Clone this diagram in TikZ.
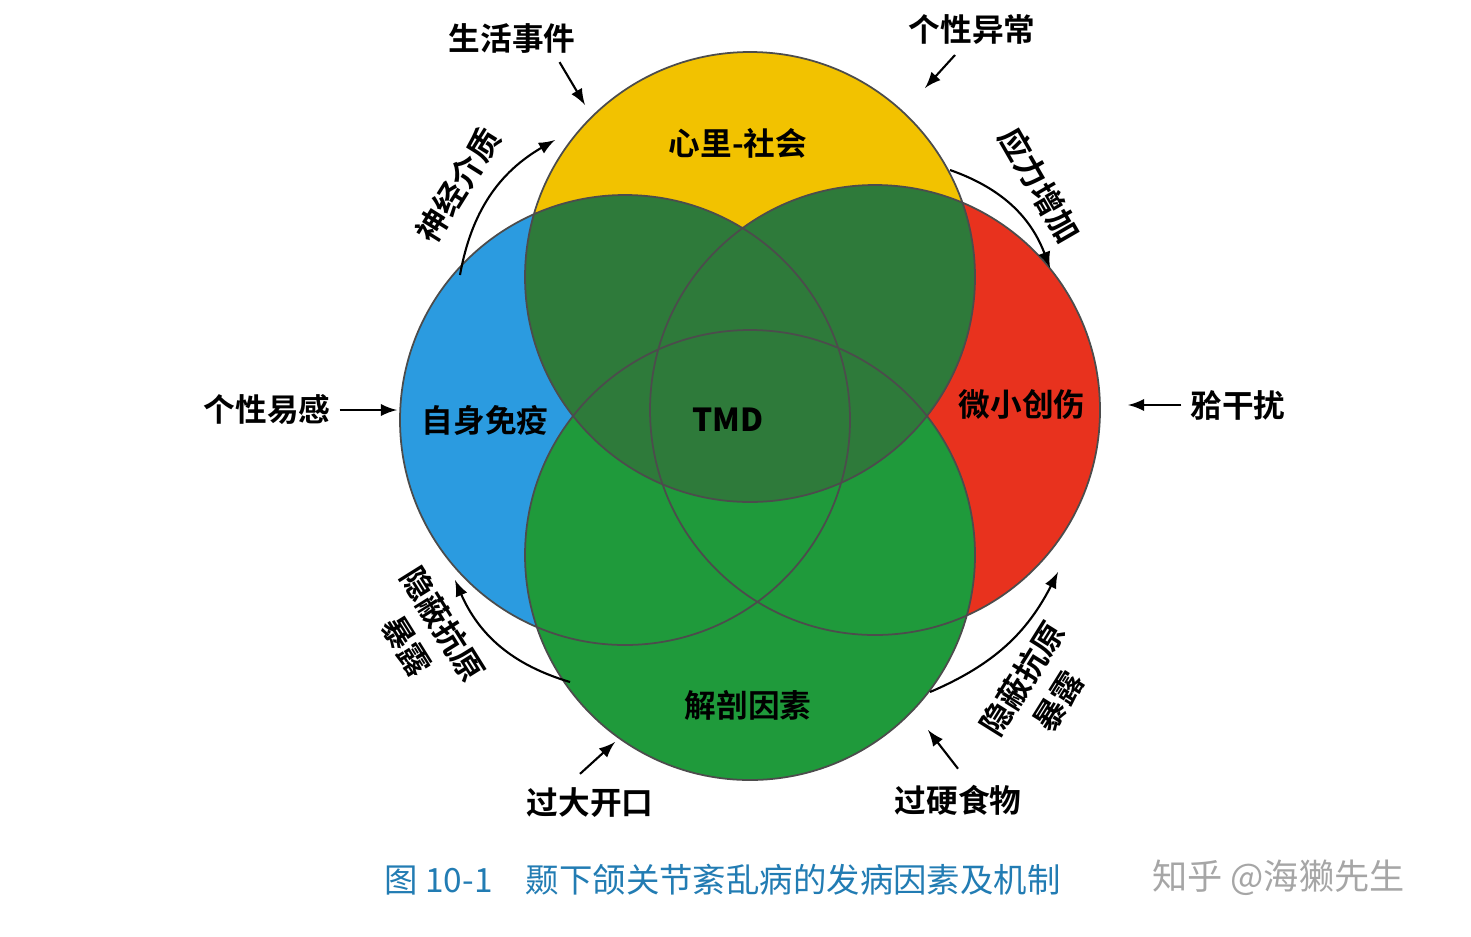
\documentclass[tikz,border=0pt]{standalone}
\usepackage{fontspec}
\setmainfont{Noto Sans CJK SC}
\newfontfamily\cjkb{Noto Sans CJK SC Bold}
\begin{document}
\begin{tikzpicture}[x=0.01cm,y=-0.01cm,
  lbl/.style={font=\cjkb\fontsize{9}{12}\selectfont,inner sep=1pt},
  arr/.style={-latex,line width=0.6pt},
  circ/.style={draw=black!70,line width=0.5pt}]
\useasboundingbox (0,0) rectangle (1471,936);
\definecolor{cy}{HTML}{F2C200}
\definecolor{cb}{HTML}{2B9BE0}
\definecolor{cr}{HTML}{E8321E}
\definecolor{cg}{HTML}{1F9A3B}
\definecolor{cd}{HTML}{2E7A3A}
\fill[cb] (625,420) circle (225);
\fill[cr] (875,410) circle (225);
\fill[cy] (750,277) circle (225);
\fill[cg] (750,555) circle (225);
\begin{scope}
\clip (750,277) circle (225);
\fill[cd] (625,420) circle (225);
\fill[cd] (875,410) circle (225);
\fill[cd] (750,555) circle (225);
\end{scope}
\draw[circ] (625,420) circle (225) (875,410) circle (225) (750,277) circle (225) (750,555) circle (225);
\node[lbl] (ps) at (738,143) {心里-社会};
\node[lbl] (ai) at (485,420) {自身免疫};
\node[lbl,font=\bfseries\fontsize{9}{10}\selectfont] (tmd) at (728,420) {TMD};
\node[lbl] (mt) at (1022,405) {微小创伤};
\node[lbl] (an) at (748,705) {解剖因素};
\node[lbl] (le) at (512,38) {生活事件};
\node[lbl] (pa) at (972,30) {个性异常};
\node[lbl] (ps2) at (267,410) {个性易感};
\node[lbl] (oc) at (1238,405) {𬌗干扰};
\node[lbl] (mo) at (590,803) {过大开口};
\node[lbl] (hf) at (958,800) {过硬食物};
\coordinate (a1) at (585,105); \draw[arr] (le.south east)++(-20,5) -- (a1);
\coordinate (a2) at (925,88); \draw[arr] (955,55) -- (a2);
\coordinate (a3) at (397,410); \draw[arr] (ps2.east)++(5,0) -- (a3);
\coordinate (a4) at (1128,405); \draw[arr] (oc.west)++(-5,0) -- (a4);
\coordinate (a5) at (615,742); \draw[arr] (mo.north)++(-10,-10) -- (a5);
\coordinate (a6) at (928,730); \draw[arr] (hf.north)++(0,-12) -- (a6);
\draw[arr] (460,275) to[bend left=25] (555,140);
\node[lbl,rotate=58] (nt) at (458,185) {神经介质};
\draw[arr] (950,170) to[bend left=25] (1050,268);
\node[lbl,rotate=-60] (si) at (1040,185) {应力增加};
\draw[arr] (570,682) to[bend left=25] (455,580);
\node[lbl,rotate=-58,align=center] (ha1) at (425,635) {隐蔽抗原\\暴露};
\draw[arr] (930,692) to[bend right=20] (1058,572);
\node[lbl,rotate=58,align=center] (ha2) at (1040,690) {隐蔽抗原\\暴露};
\node[anchor=west,text=cb!80!black,font=\fontsize{9.5}{11}\selectfont] (cap) at (372,880) {图 10-1\quad 颞下颌关节紊乱病的发病因素及机制};
\node[anchor=west,text=black!35,font=\fontsize{10}{12}\selectfont] (wm) at (1140,878) {知乎 @海獭先生};
\end{tikzpicture}
\end{document}
